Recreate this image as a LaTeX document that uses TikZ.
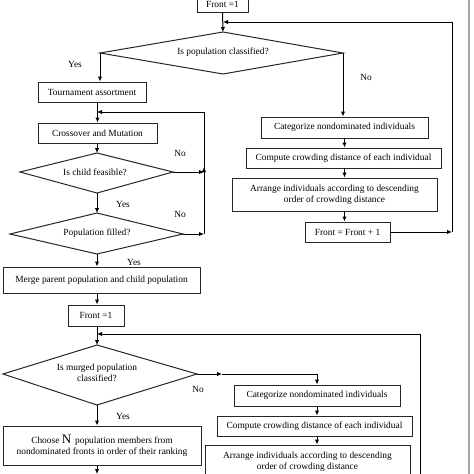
\documentclass[tikz,border=0pt]{standalone}
\usepackage{fontspec}
\setmainfont{Liberation Serif}
\usetikzlibrary{arrows.meta}
\begin{document}
\begin{tikzpicture}[x=1pt,y=-1pt,
  font=\fontsize{9.4}{10.8}\selectfont,
  box/.style={draw=black!85,line width=1pt,inner sep=0pt,align=center,fill=white},
  dia/.style={draw=black!85,line width=1pt},
  lab/.style={inner sep=0pt},
  conn/.style={draw=black,line width=1pt},
  arr/.style={conn,-{Latex[length=5pt,width=4.5pt]}}]
\useasboundingbox (0,0) rectangle (474,474);
% page border
\draw[gray!70,line width=1.6pt] (469,0) -- (469,474);
% boxes
\node[box,minimum width=51pt,minimum height=20pt] (front1) at (222.5,2) {};
\node[lab] (front1txt) at (222.5,4.5) {Front =1};
\node[box,minimum width=108pt,minimum height=20pt] (tour) at (92,92) {Tournament assortment};
\node[box,minimum width=119pt,minimum height=20pt] (cross) at (97.5,133) {Crossover and Mutation};
\node[box,minimum width=197pt,minimum height=26pt] (merge) at (101.5,280) {Merge parent population and child population};
\node[box,minimum width=56pt,minimum height=21pt] (front2) at (96,315.5) {Front =1};
\node[box,minimum width=198pt,minimum height=39pt] (choose) at (102,445.5) {Choose {\fontsize{13}{13}\selectfont N}\, population members from\\nondominated fronts in order of their ranking};
\node[box,minimum width=167pt,minimum height=21pt] (cat1) at (344.5,127.5) {Categorize nondominated individuals};
\node[box,minimum width=195pt,minimum height=20pt] (comp1) at (343.5,158) {Compute crowding distance of each individual};
\node[box,minimum width=205pt,minimum height=33pt] (arr1) at (334.5,194.5) {Arrange individuals according to descending\\order of crowding distance};
\node[box,minimum width=85pt,minimum height=20pt] (inc) at (347.5,232) {Front = Front + 1};
\node[box,minimum width=166pt,minimum height=21pt] (cat2) at (317,395.5) {Categorize nondominated individuals};
\node[box,minimum width=195pt,minimum height=20pt] (comp2) at (314.5,426) {Compute crowding distance of each individual};
\node[box,minimum width=205pt,minimum height=33pt] (arr2) at (307.5,461.5) {Arrange individuals according to descending\\order of crowding distance};
% diamonds
\coordinate (d1t) at (223,32); \coordinate (d1l) at (100,53); \coordinate (d1r) at (343,53); \coordinate (d1b) at (223,74);
\coordinate (d2t) at (97,153); \coordinate (d2l) at (20,172); \coordinate (d2r) at (173,172); \coordinate (d2b) at (97,193);
\coordinate (d3t) at (97,213); \coordinate (d3l) at (10,234); \coordinate (d3r) at (183,234); \coordinate (d3b) at (97,254);
\coordinate (d4t) at (97,345); \coordinate (d4l) at (3,374); \coordinate (d4r) at (197,374); \coordinate (d4b) at (97,405);
\draw[dia] (d1t) -- (d1r) -- (d1b) -- (d1l) -- cycle;
\draw[dia] (d2t) -- (d2r) -- (d2b) -- (d2l) -- cycle;
\draw[dia] (d3t) -- (d3r) -- (d3b) -- (d3l) -- cycle;
\draw[dia] (d4t) -- (d4r) -- (d4b) -- (d4l) -- cycle;
\node[lab] (d1txt) at (223,52) {Is population classified?};
\node[lab] (d2txt) at (95,172) {Is child feasible?};
\node[lab] (d3txt) at (97,233) {Population filled?};
\node[lab,align=center] (d4txt) at (97,373) {Is murged population\\classified?};
% labels
\node[lab] (y1) at (75,64) {Yes};
\node[lab] (n1) at (366,77) {No};
\node[lab] (n2) at (180,153) {No};
\node[lab] (y2) at (123,204) {Yes};
\node[lab] (n3) at (180,214) {No};
\node[lab] (y3) at (134,262) {Yes};
\node[lab] (n4) at (198,389) {No};
\node[lab] (y4) at (123,416) {Yes};
% helper coordinates
\coordinate (j1) at (452,232);
\coordinate (j1t) at (452,22);
\coordinate (j1e) at (223,22);
\coordinate (j2a) at (204,172);
\coordinate (j2b) at (204,234);
\coordinate (j2t) at (204,112);
\coordinate (j2e) at (97,112);
\coordinate (j3b) at (420,474);
\coordinate (j3t) at (420,334);
\coordinate (j3e) at (97,334);
\coordinate (j4) at (222,374);
\coordinate (endc) at (97,474);
% connectors
\draw[arr] (front1.south) -- (d1t);
\draw[arr] (inc.east) -- (j1);
\draw[arr] (j1) -- (j1t) -- (j1e);
\draw[arr] (d1l) -- (d1l |- tour.north);
\draw[arr] (d1r) -- (d1r |- cat1.north);
\draw[arr] (cat1) -- (cat1 |- comp1.north);
\draw[arr] (comp1.south -| cat1) -- (cat1 |- arr1.north);
\draw[arr] (arr1.south -| cat1) -- (cat1 |- inc.north);
\draw[arr] (tour.south -| cross) -- (cross.north);
\draw[arr] (d2r) -- (j2a);
\draw[arr] (d3r) -- (j2b);
\draw[arr] (j2b) -- ([yshift=5pt]j2a);
\draw[arr] (j2a) -- (j2t) -- (j2e);
\draw[arr] (cross.south -| d2t) -- (d2t);
\draw[arr] (d2b) -- (d3t);
\draw[arr] (d3b) -- (d3b |- merge.north);
\draw[arr] (merge.south -| d3b) -- (d3b |- front2.north);
\draw[arr] (front2.south -| d4t) -- (d4t);
\draw[arr] (j3b) -- (j3t) -- (j3e);
\draw[arr] (d4r) -- (j4);
\draw[arr] (j4) -| (cat2.north);
\draw[arr] (cat2.south) -- (cat2.south |- comp2.north);
\draw[arr] (comp2.south -| cat2) -- (cat2 |- arr2.north);
\draw[arr] (d4b) -- (d4b |- choose.north);
\draw[arr] (choose.south -| d4b) -- (endc);
\end{tikzpicture}
\end{document}
